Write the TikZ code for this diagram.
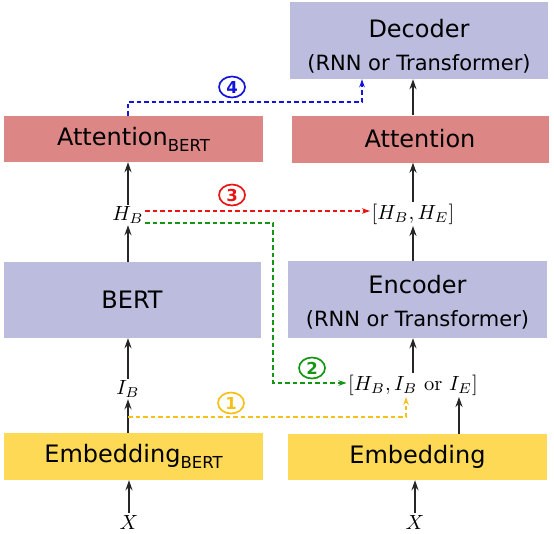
\documentclass[tikz,border=0pt]{standalone}
\usepackage{graphicx}
\usepackage{fontspec}
\setsansfont{DejaVu Sans}
\usetikzlibrary{arrows.meta,shapes.geometric}
\definecolor{lav}{RGB}{187,188,222}
\definecolor{att}{RGB}{220,134,134}
\definecolor{emb}{RGB}{253,217,86}
\definecolor{myblue}{RGB}{20,20,220}
\definecolor{myred}{RGB}{235,20,20}
\definecolor{mygreen}{RGB}{20,150,20}
\definecolor{myyellow}{RGB}{246,192,24}
\tikzset{
  box/.style={rectangle, inner sep=0pt, font=\sffamily\fontsize{24}{32}\selectfont, align=center},
  boxtext/.style={inner sep=0pt, font=\sffamily\fontsize{24}{33}\selectfont, align=center},
  lab/.style={inner sep=1.5pt, font=\fontsize{10}{12}\selectfont},
  arr/.style={-{Stealth[length=10pt,width=7pt]}, line width=1.9pt, draw=black!85},
  dsh/.style={-{Stealth[length=8pt,width=5.5pt]}, line width=1.3pt, dash pattern=on 4.5pt off 3pt},
  num/.style={ellipse, draw, line width=1.7pt, minimum width=26pt, minimum height=21pt, inner sep=0pt, font=\sffamily\bfseries\fontsize{16.5}{16.5}\selectfont}
}
\newcommand{\subbert}{\raisebox{-6pt}{\fontsize{16.5}{18}\selectfont BERT}}
\newcommand{\mlab}[1]{\scalebox{2.05}{#1}}
\begin{document}
\begin{tikzpicture}[x=1pt,y=-1pt]
\useasboundingbox (0,0) rectangle (554,533);
% boxes
\node[box, fill=lav, minimum width=258pt, minimum height=77pt,
  label={[boxtext, name=dect, yshift=-6pt]center:{Decoder\\{\fontsize{21}{33}\selectfont (RNN or Transformer)}}}] (dec) at (419,40.5) {};
\node[box, fill=att, minimum width=257pt, minimum height=47pt] (att) at (420,139) {Attention};
\node[box, fill=att, minimum width=259pt, minimum height=46pt] (attb) at (133.5,139) {Attention\subbert};
\node[box, fill=lav, minimum width=257pt, minimum height=76pt] (bert) at (132,300) {BERT};
\node[box, fill=lav, minimum width=259pt, minimum height=77pt,
  label={[boxtext, name=enct, yshift=-3pt]center:{Encoder\\{\fontsize{21}{33}\selectfont (RNN or Transformer)}}}] (enc) at (417.5,299.5) {};
\node[box, fill=emb, minimum width=259pt, minimum height=47pt] (embb) at (133.5,456.5) {Embedding\subbert};
\node[box, fill=emb, minimum width=259pt, minimum height=46pt] (emb) at (417.5,457) {Embedding};
% math labels
\node[lab] (xl) at (129,522) {\mlab{$X$}};
\node[lab] (xr) at (415,522) {\mlab{$X$}};
\node[lab] (ib) at (128,389) {\mlab{$I_B$}};
\node[lab] (hb) at (128,215) {\mlab{$H_B$}};
\node[lab] (hbhe) at (413,214) {\mlab{$[H_B,H_E]$}};
\node[lab] (hbib) at (413,385) {\mlab{$[H_B,I_B\ \mathrm{or}\ I_E]$}};
% helper coordinates
\coordinate (iex) at (459,0);
\coordinate (y1) at (128,417);
\coordinate (y2) at (406,397);
\coordinate (g1) at (145,223);
\coordinate (g2) at (273,383);
\coordinate (r1) at (145,211);
\coordinate (b2) at (362,102);
% black arrows
\draw[arr] (xl.north) -- (xl.north |- embb.south);
\draw[arr] (ib.south |- embb.north) -- (ib.south);
\draw[arr] (ib.north) -- (ib.north |- bert.south);
\draw[arr] (hb.south |- bert.north) -- (hb.south);
\draw[arr] (hb.north) -- (hb.north |- attb.south);
\draw[arr] (xr.north) -- (xr.north |- emb.south);
\draw[arr] (emb.north -| iex) -- (hbib.south -| iex);
\draw[arr] (hbib.north) -- (hbib.north |- enc.south);
\draw[arr] (hbhe.south |- enc.north) -- (hbhe.south);
\draw[arr] (hbhe.north) -- (hbhe.north |- att.south);
\draw[arr] (hbhe |- att.north) -- (hbhe |- dec.south);
% dashed connectors
\draw[dsh, myyellow] (y1) -| (y2);
\draw[dsh, mygreen] (g1) -| (g2) -- (hbib.west |- g2);
\draw[dsh, myred] (r1) -- (hbhe.west |- r1);
\draw[dsh, myblue] (hb |- attb.north) -- (hb |- b2) -- (b2) -- (b2 |- dec.south);
% numbers
\node[num, draw=myyellow, text=myyellow] (c1) at (231,403) {1};
\node[num, draw=mygreen, text=mygreen] (c2) at (312,368) {2};
\node[num, draw=myred, text=myred] (c3) at (232,195) {3};
\node[num, draw=myblue, text=myblue] (c4) at (232,87) {4};
\end{tikzpicture}
\end{document}
